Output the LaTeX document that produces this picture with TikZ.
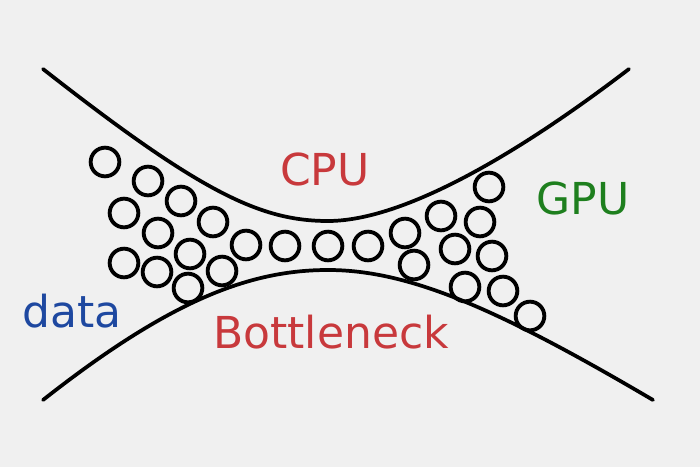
\documentclass[tikz,border=0pt]{standalone}
\usepackage{fontspec}
\setmainfont{DejaVu Sans}
\definecolor{bg}{HTML}{F0F0F0}
\definecolor{cpured}{HTML}{C8393C}
\definecolor{gpugreen}{HTML}{1E7F1E}
\definecolor{datablue}{HTML}{1E48A0}
\begin{document}
\begin{tikzpicture}[x=0.75pt,y=-0.75pt,
  ball/.style={circle,draw=black,line width=2.9pt,minimum size=21.5pt,inner sep=0pt},
  wall/.style={line width=2.8pt,line cap=round},
  lbl/.style={anchor=base,inner sep=0pt,font=\fontsize{33}{40}\selectfont}]
\fill[bg] (0,0) rectangle (700,467);
\useasboundingbox (0,0) rectangle (700,467);
% walls
\coordinate (tl) at (43,69);
\coordinate (tm) at (328,221);
\coordinate (tr) at (629,69);
\coordinate (bl) at (43,400);
\coordinate (bm) at (328,270);
\coordinate (br) at (653,400);
\draw[wall] (tl) .. controls (200,192) and (260,221) .. (tm)
  .. controls (400,221) and (510,160) .. (tr);
\draw[wall] (bl) .. controls (170,300) and (250,270) .. (bm)
  .. controls (410,270) and (500,310) .. (br);
% balls left
\node[ball] (b1) at (105,162) {};
\node[ball] (b2) at (148,181) {};
\node[ball] (b3) at (181,201) {};
\node[ball] (b4) at (124,213) {};
\node[ball] (b5) at (158,233) {};
\node[ball] (b6) at (213,222) {};
\node[ball] (b7) at (190,254) {};
\node[ball] (b8) at (124,263) {};
\node[ball] (b9) at (157,272) {};
\node[ball] (b10) at (222,271) {};
\node[ball] (b11) at (188,288) {};
\node[ball] (b12) at (246,245) {};
% middle
\node[ball] (b13) at (285,246) {};
\node[ball] (b14) at (328,246) {};
\node[ball] (b15) at (368,246) {};
% right
\node[ball] (b16) at (405,233) {};
\node[ball] (b17) at (414,265) {};
\node[ball] (b18) at (441,216) {};
\node[ball] (b19) at (489,187) {};
\node[ball] (b20) at (480,222) {};
\node[ball] (b21) at (455,249) {};
\node[ball] (b22) at (492,256) {};
\node[ball] (b23) at (465,287) {};
\node[ball] (b24) at (503,291) {};
\node[ball] (b25) at (530,316) {};
% labels
\node[lbl,text=cpured] (cpu) at (325,185) {CPU};
\node[lbl,text=gpugreen] (gpu) at (583,214) {GPU};
\node[lbl,text=datablue] (data) at (72,327) {data};
\node[lbl,text=cpured] (bn) at (331,348) {Bottleneck};
\end{tikzpicture}
\end{document}
